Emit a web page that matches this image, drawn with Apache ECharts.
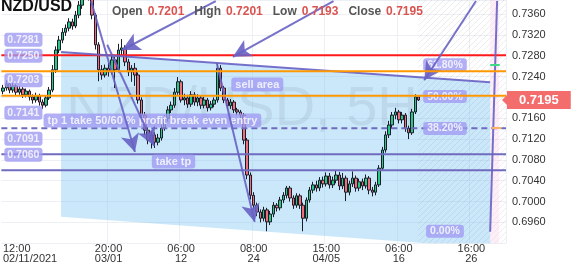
<!DOCTYPE html>
<html><head><meta charset="utf-8">
<script src="https://cdn.jsdelivr.net/npm/echarts@6/dist/echarts.min.js"></script>
<style>html,body{margin:0;padding:0;background:#fff}#c{width:576px;height:268px}</style>
</head><body><div id="c"></div>
<script>
// ---------- data ----------
const symbolName = 'NZD/USD';
const watermarkText = 'NZD/USD, 5H';
const lastOpen = 0.7201, lastHigh = 0.7201, lastLow = 0.7193, lastClose = 0.7195;
const slotCount = 153;
const tickIndex = [0, 32, 54, 76, 98, 120, 142];
const tickText = ['12:00\n02/11/2021', '20:00\n03/01', '06:00\n12', '08:00\n24', '15:00\n04/05', '06:00\n16', '16:00\n26'];
// [open, close, low, high]
const candles = [
[0.7212,0.7218,0.7206,0.7224],[0.7218,0.7226,0.7213,0.7233],[0.7226,0.7214,0.7208,0.7230],[0.7214,0.7222,0.7209,0.7228],
[0.7222,0.7210,0.7203,0.7226],[0.7210,0.7216,0.7205,0.7222],[0.7216,0.7205,0.7199,0.7220],[0.7205,0.7212,0.7200,0.7217],
[0.7212,0.7201,0.7194,0.7215],[0.7201,0.7195,0.7188,0.7206],[0.7195,0.7203,0.7190,0.7209],[0.7203,0.7191,0.7184,0.7207],
[0.7191,0.7185,0.7178,0.7196],[0.7185,0.7199,0.7181,0.7204],[0.7199,0.7214,0.7195,0.7220],[0.7214,0.7253,0.7210,0.7262],
[0.7253,0.7291,0.7247,0.7298],[0.7291,0.7310,0.7285,0.7318],[0.7310,0.7325,0.7304,0.7333],[0.7325,0.7333,0.7318,0.7340],
[0.7333,0.7345,0.7327,0.7352],[0.7345,0.7337,0.7330,0.7351],[0.7337,0.7358,0.7333,0.7366],[0.7358,0.7377,0.7352,0.7385],
[0.7377,0.7396,0.7370,0.7405],[0.7396,0.7406,0.7390,0.7415],[0.7406,0.7393,0.7386,0.7412],[0.7393,0.7358,0.7350,0.7398],
[0.7358,0.7301,0.7292,0.7362],[0.7301,0.7253,0.7231,0.7306],[0.7253,0.7243,0.7234,0.7262],[0.7243,0.7256,0.7238,0.7263],
[0.7256,0.7249,0.7240,0.7266],[0.7249,0.7272,0.7244,0.7280],[0.7272,0.7253,0.7218,0.7278],[0.7253,0.7291,0.7248,0.7303],
[0.7291,0.7295,0.7280,0.7312],[0.7295,0.7268,0.7260,0.7300],[0.7268,0.7249,0.7241,0.7274],[0.7249,0.7256,0.7230,0.7262],
[0.7256,0.7243,0.7222,0.7266],[0.7243,0.7195,0.7188,0.7248],[0.7195,0.7166,0.7158,0.7200],[0.7166,0.7137,0.7128,0.7172],
[0.7137,0.7118,0.7110,0.7143],[0.7118,0.7128,0.7102,0.7134],[0.7128,0.7114,0.7103,0.7133],[0.7114,0.7122,0.7108,0.7130],
[0.7122,0.7141,0.7117,0.7148],[0.7141,0.7160,0.7136,0.7166],[0.7160,0.7176,0.7154,0.7183],[0.7176,0.7185,0.7170,0.7192],
[0.7185,0.7210,0.7180,0.7218],[0.7210,0.7230,0.7205,0.7239],[0.7230,0.7195,0.7190,0.7234],[0.7195,0.7199,0.7185,0.7207],
[0.7199,0.7187,0.7180,0.7205],[0.7187,0.7205,0.7182,0.7212],[0.7205,0.7191,0.7184,0.7210],[0.7191,0.7199,0.7183,0.7206],
[0.7199,0.7185,0.7178,0.7204],[0.7185,0.7195,0.7179,0.7201],[0.7195,0.7180,0.7173,0.7199],[0.7180,0.7187,0.7175,0.7193],
[0.7187,0.7195,0.7181,0.7200],[0.7195,0.7256,0.7190,0.7266],[0.7256,0.7218,0.7212,0.7262],[0.7218,0.7195,0.7189,0.7222],
[0.7195,0.7184,0.7177,0.7199],[0.7184,0.7191,0.7178,0.7197],[0.7191,0.7176,0.7170,0.7195],[0.7176,0.7172,0.7165,0.7180],
[0.7172,0.7166,0.7158,0.7176],[0.7166,0.7118,0.7110,0.7170],[0.7118,0.7051,0.7043,0.7122],[0.7051,0.7012,0.7004,0.7056],
[0.7012,0.6993,0.6985,0.7018],[0.6993,0.6980,0.6972,0.6998],[0.6980,0.6968,0.6960,0.6985],[0.6968,0.6984,0.6962,0.6990],
[0.6984,0.6961,0.6943,0.6988],[0.6961,0.6976,0.6955,0.6982],[0.6976,0.6993,0.6970,0.6999],[0.6993,0.6988,0.6981,0.6997],
[0.6988,0.7003,0.6983,0.7009],[0.7003,0.7012,0.6997,0.7018],[0.7012,0.7026,0.7006,0.7030],[0.7026,0.7007,0.7000,0.7030],
[0.7007,0.6993,0.6986,0.7012],[0.6993,0.7011,0.6988,0.7016],[0.7011,0.6993,0.6986,0.7015],[0.6993,0.6968,0.6943,0.6998],
[0.6968,0.7003,0.6962,0.7008],[0.7003,0.7022,0.6998,0.7028],[0.7022,0.7032,0.7016,0.7038],[0.7032,0.7026,0.7019,0.7040],
[0.7026,0.7041,0.7020,0.7047],[0.7041,0.7034,0.7027,0.7048],[0.7034,0.7049,0.7029,0.7056],[0.7049,0.7032,0.7025,0.7055],
[0.7032,0.7041,0.7026,0.7048],[0.7041,0.7051,0.7035,0.7060],[0.7051,0.7030,0.7022,0.7057],[0.7030,0.7045,0.7024,0.7055],
[0.7045,0.7018,0.7001,0.7050],[0.7018,0.7034,0.7012,0.7040],[0.7034,0.7045,0.7028,0.7058],[0.7045,0.7026,0.7019,0.7050],
[0.7026,0.7038,0.7020,0.7044],[0.7038,0.7030,0.7022,0.7044],[0.7030,0.7045,0.7025,0.7052],[0.7045,0.7022,0.7014,0.7049],
[0.7022,0.7018,0.7010,0.7028],[0.7018,0.7032,0.7012,0.7038],[0.7032,0.7064,0.7028,0.7070],[0.7064,0.7099,0.7060,0.7105],
[0.7099,0.7128,0.7094,0.7135],[0.7128,0.7147,0.7122,0.7155],[0.7147,0.7166,0.7140,0.7172],[0.7166,0.7172,0.7158,0.7180],
[0.7172,0.7157,0.7150,0.7176],[0.7157,0.7166,0.7150,0.7172],[0.7166,0.7141,0.7134,0.7170],[0.7141,0.7132,0.7120,0.7146],
[0.7132,0.7172,0.7128,0.7178],[0.7172,0.7201,0.7168,0.7206],[lastOpen,lastClose,lastLow,lastHigh]
];
// horizontal levels
const levelValues = [0.7281, 0.7250, 0.7203, 0.7141, 0.7091, 0.7060];
const levelColors = ['#ff1a1a', '#ff9800', '#ff9800', '#6f6bbf', '#6f6bbf', '#6f6bbf'];
const levelDashed = [false, false, false, true, false, false];
const fibRatios = [0.618, 0.5, 0.382, 0];
const fibLabels = ['61.80%', '50.00%', '38.20%', '0.00%'];
const fibLow = 0.6943, fibHigh = 0.7460;
// drawing tools in data space: [candle index, price]
const channelTop = [[17.6, 0.7287], [147.7, 0.7229]];
const channelBottom = [[17.6, 0.6971], [147.7, 0.6911]];
const arrows = [
  [[64.5, 0.7385], [36.1, 0.7291]],
  [[100.2, 0.7385], [69.7, 0.7278]],
  [[143.4, 0.7385], [127.7, 0.7233]],
  [[26.7, 0.7385], [40.0, 0.7095]],
  [[31.6, 0.7301], [45.8, 0.7107]],
  [[64.8, 0.7266], [76.3, 0.6961]]
];
const verticalTool = [[149.8, 0.7385], [147.7, 0.6942]];
const sideTicks = [
  {from: [147.7, 0.7263], to: [150.6, 0.7263], color: '#3ddc84'},
  {from: [148.2, 0.7141], to: [151.0, 0.7141], color: '#ffb060'}
];
const notes = [
  {text: 'sell area', at: [77.1, 0.72247]},
  {text: 'tp 1 take 50/60 % profit break even entry', at: [45.3, 0.71556]},
  {text: 'take tp', at: [51.7, 0.70769]}
];

// ---------- chart ----------
const cats = [];
for (let i = 0; i < slotCount; i++) { const k = tickIndex.indexOf(i); cats.push(k >= 0 ? tickText[k] : ''); }
const isTick = i => tickIndex.indexOf(i) >= 0;

const pc = document.createElement('canvas'); pc.width = 6; pc.height = 6;
const g = pc.getContext('2d'); g.strokeStyle = 'rgba(0,0,0,0.07)'; g.lineWidth = 1;
g.beginPath(); g.moveTo(-1, 7); g.lineTo(7, -1); g.stroke();

const boxBase = {color: '#fff', fontWeight: 'bold', backgroundColor: '#a09bf3', borderRadius: 3};
const noteLabel = Object.assign({fontSize: 11, padding: [2, 4, 1, 4]}, boxBase);
const fibLabel = Object.assign({fontSize: 10.5, padding: [1, 4, 1, 4]}, boxBase);
const priceLabel = Object.assign({fontSize: 10.5, padding: [2, 3, 1, 3]}, boxBase);
const purple = 'rgba(104,98,196,0.9)';
const arrowBlue = 'rgba(70,95,205,0.9)';

const mlData = [];
mlData.push([{coord: channelTop[0], symbol: 'none'}, {coord: channelTop[1], symbol: 'none'}]);
mlData.push([{coord: channelBottom[0], symbol: 'none'}, {coord: channelBottom[1], symbol: 'none'}]);
arrows.forEach(a => mlData.push([{coord: a[0], symbol: 'none'}, {coord: a[1], symbol: 'arrow', symbolSize: [14, 18], itemStyle: {color: arrowBlue}}]));
mlData.push([{coord: verticalTool[0], symbol: 'none'}, {coord: verticalTool[1], symbol: 'none'}]);
sideTicks.forEach(t => mlData.push([{coord: t.from, symbol: 'none', lineStyle: {color: t.color, width: 2}}, {coord: t.to, symbol: 'none'}]));

const fibData = fibRatios.map((r, i) => ({name: fibLabels[i], value: [134, fibLow + r * (fibHigh - fibLow)]}));
const noteData = notes.map(n => ({name: n.text, value: n.at}));

const series = [
  {type: 'custom', xAxisIndex: 1, z: 0, silent: true, clip: true, data: [0],
   renderItem: (params, api) => ({type: 'polygon',
     shape: {points: [api.coord(channelTop[0]), api.coord(channelTop[1]), api.coord(channelBottom[1]), api.coord(channelBottom[0])]},
     style: {fill: 'rgba(125,198,245,0.4)'}}),
   markArea: {silent: true, data: [
     [{xAxis: 125.9, itemStyle: {color: {image: pc, repeat: 'repeat'}}}, {xAxis: slotCount - 0.5}],
     [{xAxis: 147.7, itemStyle: {color: 'rgba(250,205,235,0.35)'}}, {xAxis: 150.4}]
   ]}},
  {type: 'candlestick', xAxisIndex: 0, z: 2, data: candles, barWidth: 3,
   itemStyle: {color: '#26c985', color0: '#ef6f7a', borderColor: '#1b1d2b', borderColor0: '#1b1d2b', borderWidth: 1}},
  {type: 'scatter', xAxisIndex: 1, z: 3, symbolSize: 0, silent: true, data: [[0, lastClose]],
   markLine: {silent: true, symbol: ['none', 'none'], animation: false,
     lineStyle: {type: 'solid', color: purple, width: 2}, label: {show: false}, data: mlData}}
];
levelValues.forEach((v, i) => {
  series.push({type: 'line', xAxisIndex: 1, z: levelColors[i] === '#ff9800' ? 5 : 3, silent: true, symbol: 'none',
    lineStyle: {color: levelColors[i], width: 2, type: levelDashed[i] ? [6, 4] : 'solid'},
    data: [[-0.5, v], [slotCount - 0.5, v]]});
});
series.push({type: 'scatter', xAxisIndex: 1, z: 6, symbolSize: 0, silent: true,
  data: levelValues.map(v => ({name: v.toFixed(4), value: [-0.5, v]})),
  label: Object.assign({show: true, position: 'right', distance: 0, offset: [3, -15.5], formatter: '{b}'}, priceLabel)});
series.push({type: 'scatter', xAxisIndex: 1, z: 4, symbolSize: 0, silent: true, data: fibData,
  label: Object.assign({show: true, position: 'inside', formatter: '{b}'}, fibLabel)});
series.push({type: 'scatter', xAxisIndex: 1, z: 4, symbolSize: 0, silent: true, data: noteData,
  label: Object.assign({show: true, position: 'inside', formatter: '{b}'}, noteLabel)});

const chart = echarts.init(document.getElementById('c'), null, {renderer: 'canvas'});
chart.setOption({
  animation: false,
  textStyle: {fontFamily: 'Liberation Sans, Arial, sans-serif'},
  title: [
    {text: symbolName, left: 1, top: -1, padding: 0, textStyle: {fontSize: 16, fontWeight: 'bold', color: '#111'}},
    {text: `{l|Open} {v|${lastOpen.toFixed(4)}}  {l|High} {v|${lastHigh.toFixed(4)}}  {l|Low} {v|${lastLow.toFixed(4)}}  {l|Close} {v|${lastClose.toFixed(4)}}`,
     left: 112, top: 3, padding: 0,
     textStyle: {rich: {l: {color: '#555', fontSize: 12}, v: {color: '#d9534f', fontSize: 12}}}}
  ],
  graphic: [
    {type: 'text', z: 1, silent: true, style: {text: watermarkText, x: 242, y: 110, align: 'center', verticalAlign: 'middle',
      font: '56px Liberation Sans, Arial, sans-serif', fill: 'rgba(110,130,140,0.16)'}},
    {type: 'polygon', z: 50, silent: true, shape: {points: [[502, 100], [508, 94], [508, 106]]}, style: {fill: '#f46d6d'}}
  ],
  grid: {left: 0, right: 70, top: 0, bottom: 24.76},
  xAxis: [
    {type: 'category', data: cats, boundaryGap: true,
     axisLine: {show: false}, axisTick: {show: false},
     axisLabel: {interval: (i) => isTick(i), alignMinLabel: 'left', fontSize: 11, color: '#333', lineHeight: 10, margin: 1},
     splitLine: {show: true, interval: (i) => i > 0 && isTick(i), lineStyle: {color: '#eceff3'}}},
    {type: 'value', min: -0.5, max: slotCount - 0.5, show: false}
  ],
  yAxis: {type: 'value', position: 'right', min: 0.692, max: 0.7387, interval: 0.004,
    axisLine: {show: false}, axisTick: {show: false},
    axisLabel: {fontSize: 11, color: '#333', margin: 6, formatter: v => (v < 0.695 || v > 0.737) ? '' : v.toFixed(4)},
    splitLine: {lineStyle: {color: '#eceff3'}},
    axisPointer: {show: true, value: lastClose, status: 'show', type: 'line', triggerTooltip: false,
      lineStyle: {color: 'rgba(0,0,0,0)', width: 0},
      label: {show: true, formatter: p => (+p.value).toFixed(4), backgroundColor: '#f46d6d', color: '#fff',
        fontWeight: 'bold', fontSize: 13, padding: [3, 12, 2, 12], margin: 1, borderRadius: 0}}},
  series: series
});
</script></body></html>
